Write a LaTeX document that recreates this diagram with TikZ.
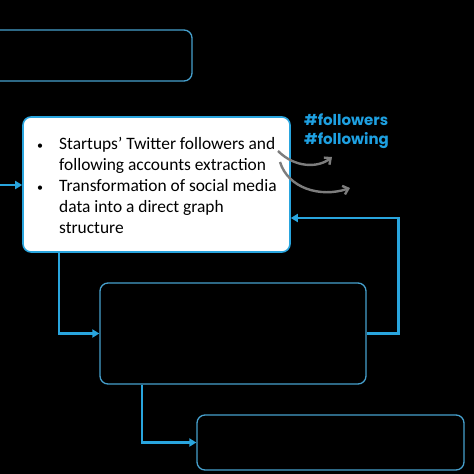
\documentclass[tikz,border=0pt]{standalone}
\usepackage{fontspec}
\setmainfont{Carlito}
\newfontfamily\tagfont{Poppins}
\usetikzlibrary{positioning,arrows.meta}

\definecolor{linkblue}{RGB}{41,165,222}
\definecolor{edgeblue}{RGB}{70,160,205}
\definecolor{tagblue}{RGB}{30,160,225}
\definecolor{curvegray}{RGB}{125,125,125}

\tikzset{
	stage/.style={draw=edgeblue,line width=1.3pt,rounded corners=8pt,inner sep=0pt},
	link/.style={draw=linkblue,line width=2.6pt,-{Triangle[length=7pt,width=8pt]}},
	curve/.style={draw=curvegray,line width=2.4pt,-{Straight Barb[length=5pt,width=9pt]}}
}
\newcommand{\bul}{\makebox[23pt][l]{\hspace{1pt}{\fontsize{12}{12}\selectfont\textbullet}}}

\begin{document}
\begin{tikzpicture}[x=1pt,y=-1pt]
	\fill[black] (0,0) rectangle (474,474);
	\useasboundingbox (0,0) rectangle (474,474);

	% boxes
	\node[stage,minimum width=267pt,minimum height=51pt]	(top)	at (58.5,55.5) {};
	\node[stage,draw=linkblue,fill=white,line width=1.6pt,
		minimum width=267pt,minimum height=135pt]			(main)	at (156.5,184.5) {};
	\node[stage,minimum width=266pt,minimum height=101pt]	(mid)	at (233,333.5) {};
	\node[stage,minimum width=267pt,minimum height=55pt]	(low)	at (330.5,442.5) {};

	% text of the white box
	\node[anchor=north west,align=left,inner sep=0pt,font=\fontsize{17.4}{21}\selectfont]
		(items) at (36,137.5) {\bul Startups’ Twitter followers and\\
		\hspace{23pt}following accounts extraction\\
		\bul Transformation of social media\\
		\hspace{23pt}data into a direct graph\\
		\hspace{23pt}structure};

	\node[anchor=north west,align=left,inner sep=0pt,text=tagblue,
		font=\tagfont\bfseries\fontsize{15}{19}\selectfont]
		(tags) at (304,114) {\#followers\\\#following};

	% connectors
	\coordinate (in)	at (0,185);
	\coordinate (c1)	at (278,151);
	\coordinate (c2)	at (280,162);
	\coordinate (t1)	at (332,157);
	\coordinate (t2)	at (350,188);

	\draw[link] (in) -- (main.west|-in);
	\draw[link] (main.south-|59,0) |- (mid.west);
	\draw[link] (mid.east) -- ++(32,0) |- (main.east|-0,218);
	\draw[link] (mid.south-|142,0) |- (low.west);

	\draw[curve] (c1) .. controls (295,168) and (318,168) .. (t1);
	\draw[curve] (c2) .. controls (288,188) and (320,198) .. (t2);
\end{tikzpicture}
\end{document}
